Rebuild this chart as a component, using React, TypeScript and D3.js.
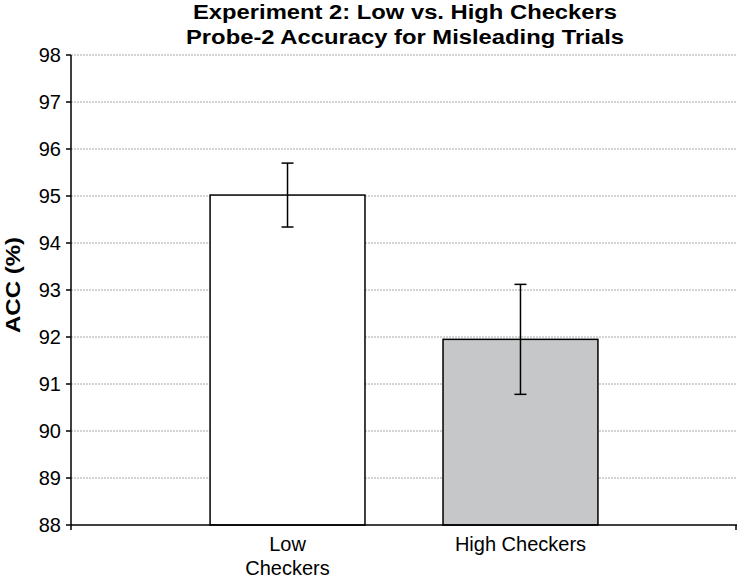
import React from 'react';
import * as d3 from 'd3';

const categories = ['Low Checkers', 'High Checkers'];
const labelLines = [['Low', 'Checkers'], ['High Checkers']];
const means = [95.02, 91.95];
const errors = [0.68, 1.17];
const fills = ['#ffffff', '#c6c7c9'];
const yTicks = [88, 89, 90, 91, 92, 93, 94, 95, 96, 97, 98];
const titleLines = ['Experiment 2: Low vs. High Checkers', 'Probe-2 Accuracy for Misleading Trials'];
const titleWidths = [424, 438];

const W = 738;
const H = 577;
const left = 71;
const right = 737;
const top = 55;
const bottom = 525;
const font = 'Arial, "Liberation Sans", Helvetica, sans-serif';

const App: React.FC = () => {
  const x = d3
    .scaleBand<string>()
    .domain(categories)
    .range([left, right])
    .paddingInner(0.335)
    .paddingOuter(0.597);

  const y = d3.scaleLinear().domain([88, 98]).range([bottom, top]);

  return (
    <div style={{ position: 'absolute', left: 0, top: 0 }}>
      <svg width={W} height={H} style={{ display: 'block', background: '#fff' }}>
        {/* Title (the original is drawn a bit wide) */}
        {titleLines.map((t, i) => (
          <text
            key={t}
            x={405}
            y={19 + i * 25}
            textAnchor="middle"
            fontFamily={font}
            fontWeight="bold"
            fontSize={20}
            textLength={titleWidths[i]}
            lengthAdjust="spacingAndGlyphs"
            fill="#000"
          >
            {t}
          </text>
        ))}

        {/* Grid lines */}
        {yTicks.slice(1).map(t => (
          <line
            key={`g${t}`}
            x1={left}
            x2={right}
            y1={y(t)}
            y2={y(t)}
            stroke="#a8a8a8"
            strokeWidth={1}
            strokeDasharray="2,1"
          />
        ))}

        {/* Bars */}
        {categories.map((c, i) => (
          <rect
            key={c}
            x={x(c)}
            y={y(means[i])}
            width={x.bandwidth()}
            height={bottom - y(means[i])}
            fill={fills[i]}
            stroke="#000"
            strokeWidth={1.5}
          />
        ))}

        {/* Error bars */}
        {categories.map((c, i) => {
          const cx = (x(c) as number) + x.bandwidth() / 2;
          const y1 = y(means[i] + errors[i]);
          const y2 = y(means[i] - errors[i]);
          return (
            <g key={`e${c}`} stroke="#000" strokeWidth={1.5}>
              <line x1={cx} x2={cx} y1={y1} y2={y2} />
              <line x1={cx - 6} x2={cx + 6} y1={y1} y2={y1} />
              <line x1={cx - 6} x2={cx + 6} y1={y2} y2={y2} />
            </g>
          );
        })}

        {/* Y axis */}
        <line x1={left} x2={left} y1={top} y2={bottom} stroke="#000" strokeWidth={1.5} />
        {yTicks.map(t => (
          <g key={`t${t}`}>
            <line x1={left - 5} x2={left} y1={y(t)} y2={y(t)} stroke="#000" strokeWidth={1.5} />
            <text
              x={left - 10}
              y={y(t)}
              dy="0.35em"
              textAnchor="end"
              fontFamily={font}
              fontSize={20}
              fill="#000"
            >
              {t}
            </text>
          </g>
        ))}

        {/* X axis */}
        <line x1={left} x2={right} y1={bottom} y2={bottom} stroke="#000" strokeWidth={1.5} />
        <line x1={left} x2={left} y1={bottom} y2={bottom + 5} stroke="#000" strokeWidth={1.5} />
        <line x1={right - 1} x2={right - 1} y1={bottom} y2={bottom + 5} stroke="#000" strokeWidth={1.5} />
        {categories.map((c, i) => (
          <text
            key={`l${c}`}
            x={(x(c) as number) + x.bandwidth() / 2}
            y={551}
            textAnchor="middle"
            fontFamily={font}
            fontSize={20}
            fill="#000"
          >
            {labelLines[i].map((ln, j) => (
              <tspan key={ln} x={(x(c) as number) + x.bandwidth() / 2} dy={j === 0 ? 0 : 24}>
                {ln}
              </tspan>
            ))}
          </text>
        ))}

        {/* Y axis title */}
        <text
          transform={`translate(20, 285) rotate(-90)`}
          textAnchor="middle"
          fontFamily={font}
          fontWeight="bold"
          fontSize={20}
          textLength={96}
          lengthAdjust="spacingAndGlyphs"
          fill="#000"
        >
          ACC (%)
        </text>
      </svg>
    </div>
  );
};

export default App;
